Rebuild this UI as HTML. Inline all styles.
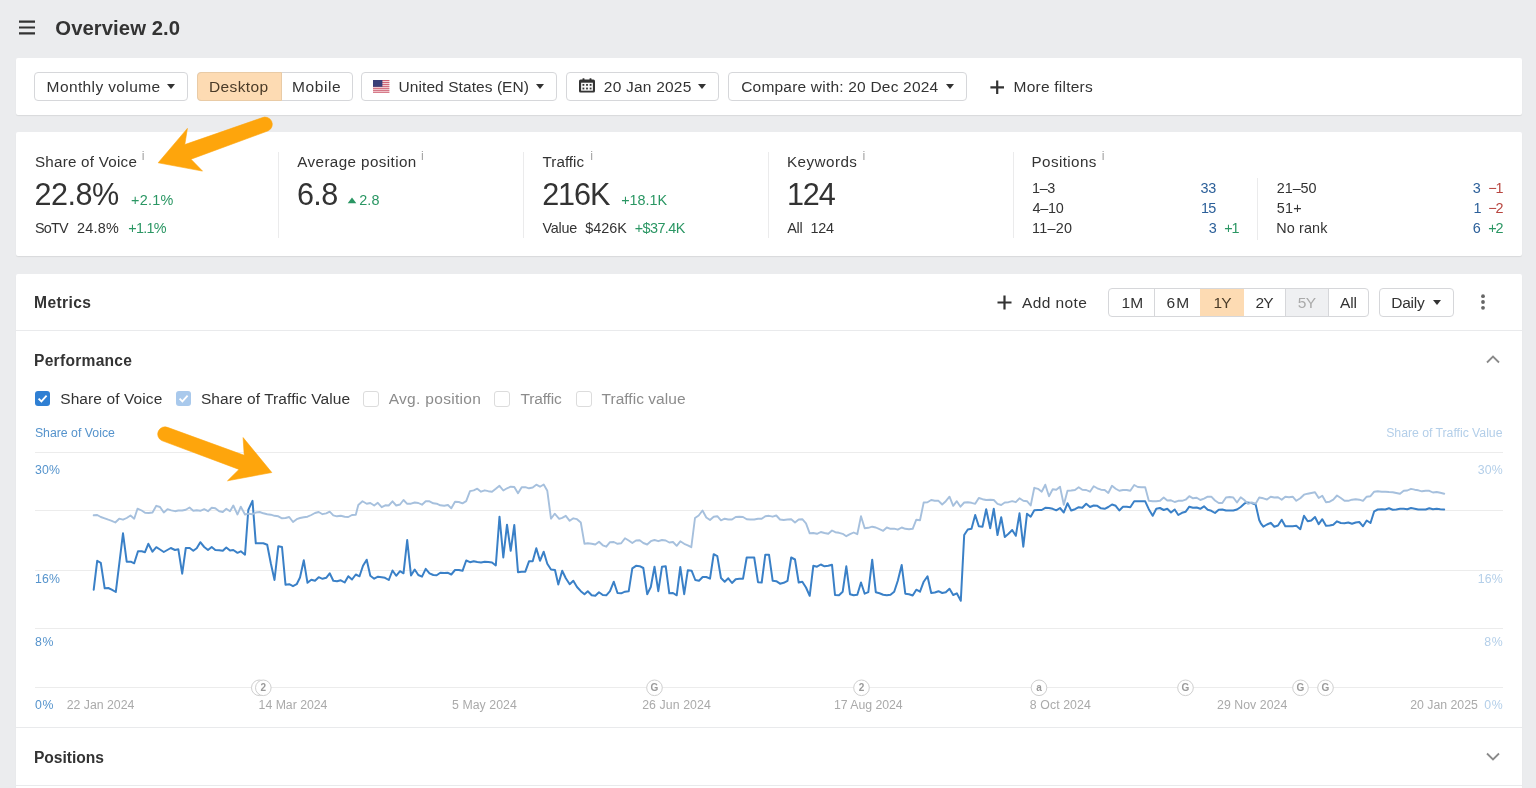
<!DOCTYPE html>
<html lang="en">
<head>
<meta charset="utf-8">
<title>Overview 2.0</title>
<style>
*{box-sizing:border-box;margin:0;padding:0}
html,body{width:1536px;height:788px;overflow:hidden}
body{background:#ebecee;font-family:"Liberation Sans",Arial,sans-serif;color:#333;position:relative;font-size:16px}
.abs,.t{position:absolute;white-space:nowrap}
.card{position:absolute;left:16px;width:1506px;background:#fff;border-radius:2px;box-shadow:0 1px 1px rgba(0,0,0,.08)}
.btn{position:absolute;top:72px;height:29px;border:1px solid #d6d7da;border-radius:4px;background:#fff}
.caret{position:absolute;width:0;height:0;border-left:4.5px solid transparent;border-right:4.5px solid transparent;border-top:5.5px solid #333}
.sep{position:absolute;width:1px;background:#ebebec}
.i{position:absolute;font-size:9px;color:#aaa;line-height:1}
.hl{position:absolute;left:35px;width:1468px;height:1px;background:#ececec}
.cb{position:absolute;top:391px;width:15px;height:15px;border-radius:3px}
.cb.off{border:1px solid #dcdcdc;background:#fff;width:16px;height:16px;margin:-.5px 0 0 -.5px}
.ln{position:absolute;left:16px;width:1506px;height:1px;background:#e9eaec}
</style>
</head>
<body>
<!-- header -->
<svg class="abs" style="left:18px;top:19px" width="18" height="17" viewBox="0 0 18 17"><path d="M1 2.6h16M1 8.5h16M1 14.4h16" stroke="#333" stroke-width="2.2" fill="none"/></svg>

<!-- filter card -->
<div class="card" style="top:58px;height:57px"></div>
<div class="btn" style="left:34px;width:154px"></div>
<div class="caret" style="left:167px;top:84px"></div>
<div class="btn" style="left:197px;width:156px"><div style="position:absolute;left:-1px;top:-1px;bottom:-1px;width:85px;background:#fddbb3;border:1px solid #e9cba6;border-radius:4px 0 0 4px"></div></div>
<div class="btn" style="left:361px;width:196px"></div>
<svg class="abs" style="left:373.4px;top:80px" width="16.4" height="12.8" viewBox="0 0 16.4 12.8"><rect width="16.4" height="12.8" fill="#f6d9dc"/><g fill="#cf6475"><rect y="0" width="16.4" height="1"/><rect y="1.97" width="16.4" height="1"/><rect y="3.94" width="16.4" height="1"/><rect y="5.9" width="16.4" height="1"/><rect y="7.87" width="16.4" height="1"/><rect y="9.84" width="16.4" height="1"/><rect y="11.8" width="16.4" height="1"/></g><rect width="9.4" height="6.8" fill="#3a3f78"/></svg>
<div class="caret" style="left:536px;top:84px"></div>
<div class="btn" style="left:566px;width:153px"></div>
<svg class="abs" style="left:578.6px;top:78.4px" width="16" height="15" viewBox="0 0 16 15"><rect x="3.5" y="0.2" width="2" height="3" rx=".6" fill="#333"/><rect x="10.5" y="0.2" width="2" height="3" rx=".6" fill="#333"/><rect x="0" y="1.6" width="16" height="13" rx="1.6" fill="#333"/><rect x="2.1" y="4.7" width="11.8" height="8" fill="#f7f7f7"/><g fill="#333"><rect x="3.5" y="6" width="1.8" height="1.8"/><rect x="7.1" y="6" width="1.8" height="1.8"/><rect x="10.7" y="6" width="1.8" height="1.8"/><rect x="3.5" y="9.6" width="1.8" height="1.8"/><rect x="7.1" y="9.6" width="1.8" height="1.8"/><rect x="10.7" y="9.6" width="1.8" height="1.8"/></g></svg>
<div class="caret" style="left:698px;top:84px"></div>
<div class="btn" style="left:728px;width:239px"></div>
<div class="caret" style="left:946px;top:84px"></div>
<svg class="abs" style="left:989.5px;top:79.5px" width="15" height="15" viewBox="0 0 15 15"><path d="M7.2 0.5v13.6M0.4 7.3h13.6" stroke="#333" stroke-width="2.2" fill="none"/></svg>

<!-- stats card -->
<div class="card" style="top:132px;height:124px"></div>
<div class="sep" style="left:278px;top:152px;height:86px"></div>
<div class="sep" style="left:523px;top:152px;height:86px"></div>
<div class="sep" style="left:768px;top:152px;height:86px"></div>
<div class="sep" style="left:1013px;top:152px;height:86px"></div>
<div class="sep" style="left:1257px;top:178px;height:62px"></div>
<svg class="abs" style="left:347px;top:197px" width="10" height="7" viewBox="0 0 10 7"><path d="M5 0.5L9.3 6.3H0.7z" fill="#2a9663"/></svg>

<!-- metrics card -->
<div class="card" style="top:274px;height:520px"></div>
<svg class="abs" style="left:997px;top:295px" width="15" height="15" viewBox="0 0 15 15"><path d="M7.5 0.5v14M0.5 7.5h14" stroke="#333" stroke-width="2.2" fill="none"/></svg>
<div class="abs" style="left:1108px;top:288px;width:261px;height:29px;border:1px solid #d6d7da;border-radius:4px;background:#fff;overflow:hidden">
  <div class="abs" style="left:45px;top:0;width:1px;height:29px;background:#d6d7da"></div>
  <div class="abs" style="left:91px;top:-1px;width:44px;height:31px;background:#fddbb3;border:1px solid #e9cba6;border-width:1px 0"></div>
  <div class="abs" style="left:176px;top:0;width:1px;height:29px;background:#d6d7da"></div>
  <div class="abs" style="left:177px;top:0;width:42px;height:29px;background:#eff0f2"></div>
  <div class="abs" style="left:219px;top:0;width:1px;height:29px;background:#d6d7da"></div>
</div>
<div class="abs" style="left:1379px;top:288px;width:75px;height:29px;border:1px solid #d6d7da;border-radius:4px;background:#fff"></div>
<div class="caret" style="left:1432.5px;top:300px"></div>
<svg class="abs" style="left:1479px;top:293px" width="8" height="18" viewBox="0 0 8 18"><circle cx="4" cy="3.2" r="1.9" fill="#666"/><circle cx="4" cy="9" r="1.9" fill="#666"/><circle cx="4" cy="14.8" r="1.9" fill="#666"/></svg>
<div class="ln" style="top:330px"></div>
<svg class="abs" style="left:1485px;top:353px" width="16" height="12" viewBox="0 0 16 12"><path d="M2 9.5L8 3.5L14 9.5" stroke="#8a8a8a" stroke-width="1.8" fill="none"/></svg>

<!-- checkboxes -->
<div class="cb" style="left:35px;background:#2f7fd3"></div>
<svg class="abs" style="left:35px;top:391px" width="15" height="15" viewBox="0 0 15 15"><path d="M3.6 7.6L6.4 10.4L11.6 4.6" stroke="#fff" stroke-width="1.8" fill="none"/></svg>
<div class="cb" style="left:176px;background:#a9c9ec"></div>
<svg class="abs" style="left:176px;top:391px" width="15" height="15" viewBox="0 0 15 15"><path d="M3.6 7.6L6.4 10.4L11.6 4.6" stroke="#fff" stroke-width="1.8" fill="none"/></svg>
<div class="cb off" style="left:363.5px"></div>
<div class="cb off" style="left:494.5px"></div>
<div class="cb off" style="left:576.5px"></div>

<!-- chart grid -->
<div class="hl" style="top:452px"></div>
<div class="hl" style="top:510px"></div>
<div class="hl" style="top:570px"></div>
<div class="hl" style="top:628px"></div>
<div class="hl" style="top:687px"></div>
<svg class="abs" style="left:0;top:440px" width="1536" height="260" viewBox="0 440 1536 260">
<path d="M93.7,589.7L97.2,560.8L100.8,562.8L104.7,588.3L108.3,588L111.7,589.7L115.8,592L123,533.3L126.7,561.7L130.8,561.7L134.2,563.3L138,551.2L141.7,551.3L145,552.2L148.3,543.8L152.5,551.7L156.3,547.2L160,549.5L163.8,552L170.8,548L175,550L178.3,549.2L182.2,573.7L185.8,548L189.7,548L193.3,550.8L196.7,548.3L200.3,542.2L204.2,547L208,550L211.7,547L215.3,550L219.2,550.3L222.8,550.8L226.3,547.5L230,550.5L233.3,550L237.5,552.8L240.8,551.3L245,554.7L248.3,510L252.5,500.8L255.8,543.3L260,543.3L263.3,543.3L267.2,544.7L270.8,563.3L274.5,580L278.3,546.3L282,547L285.5,584.7L289.2,584.2L293,586.2L296.7,584.2L300,577.5L303.8,560.3L307.5,582.8L311.3,579.7L315,580.8L318.7,577.2L322.5,578.8L326.2,577.8L329.7,573.3L333.3,580.8L337,581.3L340.8,580.3L344.7,582.5L348.3,576.2L352,579.5L355.8,574.5L359.5,576.3L363,565.8L366.7,559.7L370.3,575.8L374.2,578.7L378,576.7L381.7,577.2L385,577.8L388.8,580L392.5,570.5L396.2,575.8L400,571.2L403.5,573.3L407.2,540L411,575.5L414.7,569.5L418.3,575L422,576.7L425.7,568.8L429.5,573.3L433.3,575L436.7,575.3L440.3,572.8L444.2,573L448,572.8L451.3,574.5L455,570L458.8,570L462.5,570.8L466.2,560.5L470,562.2L473.7,561.2L477.3,562L481,562.5L484.7,561.7L488.3,562L492,562.5L495.8,565.5L499.5,516.7L503.3,557.5L507,524.7L510.7,550.8L514.3,525L518,572.2L521.7,571.7L525.3,571.7L529,561.3L532.7,561.2L536.3,548.3L540,560.8L543.7,551.7L547.3,563.8L551,569.5L555,570L558.3,584.5L562.2,570.8L565.8,578.3L569.7,584.2L573.3,580.8L577,587L580.8,591.2L584.5,594.2L587.8,591.2L591.7,595.3L595.3,595.8L599,592.2L602.8,595L606.3,595.3L610,591.2L613.8,581.7L617.5,593L621.2,593.3L625,591.7L628.7,591.3L632.3,568.3L636,565.8L639.7,566.2L643.3,568L647.2,594.2L650.8,587L654.5,566.7L658.3,591.2L662,566.7L665.7,566.2L669.3,593.3L673,593L676.7,595.3L680.3,567L684.2,594.2L687.8,570.3L691.7,570.8L695.3,580L699,580.8L702.7,577L706.3,577L710,578.7L713.7,554.2L717.3,556.2L721,578L724.7,581.7L728.3,578.3L732,583L735.7,579.2L739.3,578.8L743,578.8L746.7,557.5L750.3,557.5L754.2,557.5L758,582.2L761.7,582.5L765.3,554.7L769,554.7L772.7,580.8L776.3,581.2L780,583.7L783.7,582.8L787.5,580.8L791.2,557.5L795,559.5L798.7,582.5L802.3,581.7L806,587.5L809.7,595.8L813.3,565.8L817,566.7L820.8,564.5L824.5,566.3L828.3,565.8L832,564.7L835,595L839,595.3L842.7,591.7L846.3,566.3L850,594.2L853.7,595.3L857.3,594.7L861,582.5L864.7,593.7L868.3,592.2L872.2,559.7L875.8,592.2L879.5,593.3L883.2,594.7L886.8,595.3L890.5,594.7L894.2,591.7L897.8,580.8L901.7,565L905.3,593.7L909,594.2L912.7,595.5L916.3,589.7L920,591.7L923.7,581.7L927.5,576.2L931.2,593L934.8,592.5L938.5,591.2L942.2,593L945.8,592.2L949.5,588.8L953.2,595L956.8,593.3L960.8,600.8L964.2,535L967.8,529.5L971.5,528.7L975.2,515L978.8,526.3L982.5,526.7L986.2,509.2L990.2,528.3L993.8,508.8L997.5,535L1001.2,517.2L1004.8,537L1008.5,533.8L1012.2,530L1015.8,535.8L1019.5,513.3L1023.3,546.7L1027,513.7L1030.7,516.7L1034.3,510.3L1038,510L1041.7,510L1045.3,507.8L1049,508L1052.7,508.8L1056.3,510.3L1060,508L1063.8,512.5L1067.5,503.3L1071.2,510.5L1075,509.2L1078.7,507.2L1082.3,507.8L1086.2,503.7L1090,507L1093.7,505.5L1097.3,505.8L1101,508.3L1104.7,508.8L1108.3,507L1112,504.5L1115.7,505.8L1119.3,510.5L1123,506.7L1126.7,506.7L1130.3,507.2L1134.2,501.3L1137.8,501.2L1141.5,501.2L1145.2,501.3L1148.8,509.2L1152.7,515.8L1156.3,508.8L1160,508L1163.7,510L1167.3,508.8L1171,512.5L1174.7,509.5L1178.3,515L1182,512.8L1185.7,511.7L1189.3,506.7L1193,507.8L1196.7,507.5L1200.3,508.8L1204,506.3L1207.7,509.7L1211.3,510.8L1215,513L1218.7,509.7L1222.3,509.5L1226,510.5L1229.7,510.5L1233.3,510.5L1237,509.5L1240.7,507L1244.3,503.7L1246.7,502.5L1251.7,503L1255.7,504.7L1259.2,520L1260.8,523.3L1263.3,526.7L1267,524.5L1270.7,522.8L1274.3,526.7L1278,525.5L1281.7,519.7L1285.3,526.3L1289,526.3L1292.7,526.2L1296.3,525.8L1300.3,529.2L1304,515.8L1307.7,521.3L1311.3,520.5L1315,517L1318.7,524.2L1322.3,519.2L1326,525.8L1329.7,525.5L1333.3,524.7L1337,521.3L1340.8,523L1344.5,523.3L1348.3,522.5L1352,523.8L1355.7,522.5L1359.3,522L1363,526.3L1366.7,520.5L1370.5,523L1374.2,511.3L1377.8,509.5L1381.7,509.2L1385.3,509.5L1389,508.3L1392.7,509.7L1396.3,509.5L1400,508.8L1403.7,508.7L1407.3,509.2L1411,508L1414.7,508.7L1418.3,509.5L1422,509.5L1425.7,509.5L1429.3,508.3L1433,509.2L1436.7,508.8L1440.3,509.2L1444.2,509.5" fill="none" stroke="#3a80c7" stroke-width="2" stroke-linejoin="round" stroke-linecap="round"/>
<path d="M93.7,515.3L97.2,515L100.8,517L104.7,518.3L108.3,519.7L111.7,520.8L115.3,522.5L119.2,518.7L123,519.7L126.7,518L130.5,515.5L134.2,518.7L137.5,508.7L141.7,510.5L145,512.8L148.7,513L152.5,512.5L156.3,505.8L160,507L163.8,512.5L167.5,509.2L171.3,510.3L175,511.2L178.3,510.5L182.2,510.5L185.8,509.7L189.5,507.5L193.3,510.8L196.7,510.3L200.3,510.8L204.2,509.2L208,511.2L211.7,507.8L215.3,508.3L219.2,511.3L222.8,512L226.3,508.8L230,511.3L233.3,505.5L237.5,514.5L240.8,506.7L245,514.5L248.3,513.7L252.5,514.2L255.8,512.5L259.7,512L263.3,513.3L267.2,514.2L270.8,514.7L274.5,515.8L278.3,516.3L282,518.3L285.5,518L289.2,517L293,522L296.7,519.2L300,518L303.8,517.2L307.5,516.7L311.3,515L315,513L318.7,512L322.5,514.2L326.2,513.3L329.7,511.7L333.3,515.3L337,516.3L340.8,515.8L344.7,516.7L348.3,517L352,515L355.8,514.7L358.3,505L362.5,501.3L366.7,503.8L370.3,503L374.2,505.5L377.8,502.8L381.7,507.2L385.3,505.3L388.7,505.5L392.5,501.3L396.2,505.5L400,504.5L403.5,500L407.2,503.8L411,503.7L414.7,502.5L418.3,503L422,504.7L425.7,501.2L429.5,501.3L433.3,503.3L436.7,503.7L440.3,505.3L444.2,505.8L448,505L451.3,508.3L455,501.7L458.8,502L462.5,503.3L466.2,501.2L470,491.2L473.7,490.3L477.3,488.7L481,491.7L484.7,490.3L488.3,491.2L492,491.7L495.8,488.8L499.5,485.8L503.3,490.5L507,488.3L510.7,486.7L514.3,487L518,493.3L521.7,487.2L525.3,487.2L529,488.3L532.7,487.5L536.3,484.7L540,486.7L543.7,484.5L547.3,490.8L551,518.7L554.7,513.7L559.2,518.8L562.2,517.8L565.8,515.8L569.7,520.8L573.3,518.3L577,519.2L580.8,522.5L584.5,543.8L587.8,543.3L591.7,543.7L595.3,544.5L599,541.7L602.8,545.3L606.3,546.7L610,542.2L613.8,542L617.5,543.8L621.2,543.3L625,538.3L628.7,540.5L632.3,543L636,540.5L639.7,540.3L643.3,543L647.2,544.5L650.8,541.2L654.5,540L658.3,541.2L662,540L665.7,540.5L669.3,542.5L673,542L676.7,545.8L680.3,541.3L684.2,543.8L687.8,545.3L691.3,547.2L695,518L698.7,515.5L702.5,510.5L706.3,517.5L710,520L713.7,516.7L717.3,516.2L721,520.3L724.7,518.7L728.3,519.5L732,519.5L735.7,517L739.3,516.7L743,517L746.7,519.2L750.3,519.5L754.2,519.5L758,518.7L761.7,518.8L765.3,516.2L769,515.8L772.7,516.7L776.3,515.5L780,519.5L783.7,520L787.5,519.5L791.2,519.2L795,522.5L798.7,519.5L802.3,519.2L806,523.3L809.7,533.3L813.3,533L817,533.8L820.8,532L824.5,533L828.3,533.8L832,530.5L835.3,532.2L839,532.8L842.7,533.8L846.3,536.2L850,534.2L853.7,532.5L857.3,534.2L861,516.2L864.7,528.3L868.3,527.8L872.2,526.7L875.8,527.5L879.5,529.2L883.2,530.8L886.8,527.5L890.5,528.8L894.2,528.7L897.8,529.7L901.7,527.5L905.3,528.8L909,529.2L912.7,528.8L916.3,519.7L920,520.3L923.7,502.5L927.5,502.2L931.2,500L934.8,500.8L938.5,500.8L942.2,504.5L945.8,501.2L949.5,496.7L953.2,505.8L956.8,501.2L960.5,506.7L964.2,502.5L967.8,502.2L971.5,502.8L975.2,503.8L978.8,498L982.5,499.2L986.2,500L990.2,499.7L993.8,500L997.5,503.8L1001.2,505L1004.8,502.5L1008.5,502.2L1012.2,501.2L1015.8,502.2L1019.5,498.3L1023.3,500.8L1027,501.2L1030.7,505.5L1034.3,487.8L1038,488.8L1041.7,491.7L1045.3,484.7L1049,496.3L1052.7,489.2L1056.3,489.7L1060,486.7L1063.8,504.7L1067.5,490.8L1071.2,490.5L1075,490L1078.7,487.2L1082.3,489.7L1086.2,490L1090,491.7L1093.7,486.2L1097.3,488.3L1101,489.7L1104.7,490L1108.3,493L1112,485.8L1115.7,488.7L1119.3,490.8L1123,490L1126.7,490L1130.3,490.8L1134.2,485L1137.8,487L1141.5,487.2L1145.2,487.2L1148.8,500.8L1152.7,501.2L1156.3,501.2L1160,500.8L1163.7,497.5L1167.3,500.5L1171,500.3L1174.7,502L1178.3,500.8L1182,500.8L1185.7,499.7L1189.3,496.2L1193,498.3L1196.7,497.8L1200.3,500L1204,498.7L1207.7,496.7L1211.3,496.7L1215,500.5L1218.7,503L1222.3,503L1226,497.5L1229.7,497L1233.3,497.5L1237,502.5L1240.7,497.2L1244.3,500L1248,503.8L1251.7,502.5L1255.7,503.7L1259.2,497.5L1263.3,498.3L1267,499.5L1270.7,496.7L1274.3,497.5L1278,497.2L1281.7,499.7L1285.3,496.7L1289,497.2L1292.7,496.7L1296.3,500.8L1300.3,498.3L1304,494.7L1307.7,493.7L1311.3,493L1315,492.2L1318.7,498L1322.3,495.8L1326,502.2L1329.7,501.7L1333.3,499.7L1337,495.5L1340.8,498L1344.5,500.8L1348.3,500.8L1352,499.7L1355.7,499.2L1359.3,499.7L1363,500.8L1366.7,496.7L1370.5,496.2L1374.2,491.7L1377.8,491.3L1381.7,491.7L1385.3,491.7L1389,492L1392.7,492.2L1396.3,493L1400,493.8L1403.7,490.8L1407.3,490.5L1411,488.8L1414.7,489.7L1418.3,490.3L1422,491.3L1425.7,490.8L1429.3,490.8L1433,492.5L1436.7,492L1440.3,492.8L1444.2,493.7" fill="none" stroke="#a6c0dd" stroke-width="1.9" stroke-linejoin="round" stroke-linecap="round"/>
<circle cx="259.3" cy="687.8" r="7.8" fill="#fff" stroke="#cfcfcf"/><circle cx="263.3" cy="687.8" r="7.8" fill="#fff" stroke="#cfcfcf"/><text x="263.3" y="691.4" text-anchor="middle" font-family="Liberation Sans, Arial, sans-serif" font-size="10" font-weight="700" fill="#9a9a9a">2</text><circle cx="654.5" cy="687.8" r="7.8" fill="#fff" stroke="#cfcfcf"/><text x="654.5" y="691.4" text-anchor="middle" font-family="Liberation Sans, Arial, sans-serif" font-size="10" font-weight="700" fill="#9a9a9a">G</text><circle cx="861.5" cy="687.8" r="7.8" fill="#fff" stroke="#cfcfcf"/><text x="861.5" y="691.4" text-anchor="middle" font-family="Liberation Sans, Arial, sans-serif" font-size="10" font-weight="700" fill="#9a9a9a">2</text><circle cx="1039" cy="687.8" r="7.8" fill="#fff" stroke="#cfcfcf"/><text x="1039" y="691.4" text-anchor="middle" font-family="Liberation Sans, Arial, sans-serif" font-size="10" font-weight="700" fill="#9a9a9a">a</text><circle cx="1185.5" cy="687.8" r="7.8" fill="#fff" stroke="#cfcfcf"/><text x="1185.5" y="691.4" text-anchor="middle" font-family="Liberation Sans, Arial, sans-serif" font-size="10" font-weight="700" fill="#9a9a9a">G</text><circle cx="1300.5" cy="687.8" r="7.8" fill="#fff" stroke="#cfcfcf"/><text x="1300.5" y="691.4" text-anchor="middle" font-family="Liberation Sans, Arial, sans-serif" font-size="10" font-weight="700" fill="#9a9a9a">G</text><circle cx="1325.5" cy="687.8" r="7.8" fill="#fff" stroke="#cfcfcf"/><text x="1325.5" y="691.4" text-anchor="middle" font-family="Liberation Sans, Arial, sans-serif" font-size="10" font-weight="700" fill="#9a9a9a">G</text>
</svg>

<div class="ln" style="top:727px"></div>
<svg class="abs" style="left:1485px;top:751px" width="16" height="12" viewBox="0 0 16 12"><path d="M2 2.5L8 8.5L14 2.5" stroke="#8a8a8a" stroke-width="1.8" fill="none"/></svg>
<div class="ln" style="top:785px"></div>

<!-- text -->
<div class="t" style="left:55.30px;top:15.77px;font-size:20.3px;line-height:24px;letter-spacing:0.060px;font-weight:700">Overview 2.0</div>
<div class="t" style="left:46.60px;top:77.43px;font-size:15.5px;line-height:19px;letter-spacing:0.383px">Monthly volume</div>
<div class="t" style="left:209.00px;top:77.43px;font-size:15.5px;line-height:19px;letter-spacing:0.377px;color:#4a3b28">Desktop</div>
<div class="t" style="left:292.00px;top:77.43px;font-size:15.5px;line-height:19px;letter-spacing:0.592px">Mobile</div>
<div class="t" style="left:398.60px;top:77.43px;font-size:15.5px;line-height:19px;letter-spacing:0.067px">United States (EN)</div>
<div class="t" style="left:603.80px;top:77.43px;font-size:15.5px;line-height:19px;letter-spacing:0.219px">20 Jan 2025</div>
<div class="t" style="left:741.20px;top:77.43px;font-size:15.5px;line-height:19px;letter-spacing:0.204px">Compare with: 20 Dec 2024</div>
<div class="t" style="left:1013.60px;top:77.43px;font-size:15.5px;line-height:19px;letter-spacing:0.218px">More filters</div>
<div class="t" style="left:34.90px;top:152.63px;font-size:15.2px;line-height:18px;letter-spacing:0.243px">Share of Voice</div>
<div class="t" style="left:297.30px;top:152.63px;font-size:15.2px;line-height:18px;letter-spacing:0.406px">Average position</div>
<div class="t" style="left:542.60px;top:152.63px;font-size:15.2px;line-height:18px;letter-spacing:0.024px">Traffic</div>
<div class="t" style="left:787.00px;top:152.63px;font-size:15.2px;line-height:18px;letter-spacing:0.459px">Keywords</div>
<div class="t" style="left:1031.60px;top:152.63px;font-size:15.2px;line-height:18px;letter-spacing:0.396px">Positions</div>
<div class="t" style="left:141.75px;top:149.07px;font-size:12.5px;line-height:15px;color:#a3a3a3">i</div>
<div class="t" style="left:421.05px;top:149.07px;font-size:12.5px;line-height:15px;color:#a3a3a3">i</div>
<div class="t" style="left:590.15px;top:149.07px;font-size:12.5px;line-height:15px;color:#a3a3a3">i</div>
<div class="t" style="left:862.55px;top:149.07px;font-size:12.5px;line-height:15px;color:#a3a3a3">i</div>
<div class="t" style="left:1101.65px;top:149.07px;font-size:12.5px;line-height:15px;color:#a3a3a3">i</div>
<div class="t" style="left:34.40px;top:176.10px;font-size:30.6px;line-height:37px;letter-spacing:-0.511px">22.8%</div>
<div class="t" style="left:297.00px;top:176.10px;font-size:30.6px;line-height:37px;letter-spacing:-0.657px">6.8</div>
<div class="t" style="left:542.20px;top:176.10px;font-size:30.6px;line-height:37px;letter-spacing:-1.081px">216K</div>
<div class="t" style="left:787.00px;top:176.10px;font-size:30.6px;line-height:37px;letter-spacing:-1.200px">124</div>
<div class="t" style="left:131.10px;top:191.71px;font-size:14.4px;line-height:17px;letter-spacing:0.273px;color:#2a9663">+2.1%</div>
<div class="t" style="left:359.20px;top:191.71px;font-size:14.4px;line-height:17px;letter-spacing:0.099px;color:#2a9663">2.8</div>
<div class="t" style="left:621.20px;top:191.71px;font-size:14.4px;line-height:17px;letter-spacing:-0.022px;color:#2a9663">+18.1K</div>
<div class="t" style="left:34.90px;top:220.41px;font-size:14.4px;line-height:17px;letter-spacing:-0.731px">SoTV</div>
<div class="t" style="left:77.00px;top:220.41px;font-size:14.4px;line-height:17px;letter-spacing:0.273px">24.8%</div>
<div class="t" style="left:128.20px;top:220.41px;font-size:14.4px;line-height:17px;letter-spacing:-0.702px;color:#2a9663">+1.1%</div>
<div class="t" style="left:542.60px;top:220.41px;font-size:14.4px;line-height:17px;letter-spacing:-0.283px">Value</div>
<div class="t" style="left:585.20px;top:220.41px;font-size:14.4px;line-height:17px">$426K</div>
<div class="t" style="left:634.70px;top:220.41px;font-size:14.4px;line-height:17px;letter-spacing:-0.569px;color:#2a9663">+$37.4K</div>
<div class="t" style="left:787.20px;top:220.41px;font-size:14.4px;line-height:17px;letter-spacing:-0.198px">All</div>
<div class="t" style="left:810.40px;top:220.41px;font-size:14.4px;line-height:17px;letter-spacing:-0.203px">124</div>
<div class="t" style="left:1032.00px;top:179.61px;font-size:14.4px;line-height:17px;letter-spacing:-0.353px">1–3</div>
<div class="t" style="left:1200.60px;top:179.61px;font-size:14.4px;line-height:17px;letter-spacing:-0.303px;color:#2b5f99">33</div>
<div class="t" style="left:1032.60px;top:200.11px;font-size:14.4px;line-height:17px;letter-spacing:-0.270px">4–10</div>
<div class="t" style="left:1201.00px;top:200.11px;font-size:14.4px;line-height:17px;letter-spacing:-0.703px;color:#2b5f99">15</div>
<div class="t" style="left:1032.00px;top:220.41px;font-size:14.4px;line-height:17px;letter-spacing:0.239px">11–20</div>
<div class="t" style="left:1208.70px;top:220.41px;font-size:14.4px;line-height:17px;color:#2b5f99">3</div>
<div class="t" style="left:1224.30px;top:220.41px;font-size:14.4px;line-height:17px;letter-spacing:-1.200px;color:#2a9663">+1</div>
<div class="t" style="left:1276.80px;top:179.61px;font-size:14.4px;line-height:17px;letter-spacing:-0.078px">21–50</div>
<div class="t" style="left:1472.80px;top:179.61px;font-size:14.4px;line-height:17px;color:#2b5f99">3</div>
<div class="t" style="left:1488.20px;top:179.61px;font-size:14.4px;line-height:17px;letter-spacing:-1.200px;color:#b8453f">−1</div>
<div class="t" style="left:1276.80px;top:200.11px;font-size:14.4px;line-height:17px;letter-spacing:0.197px">51+</div>
<div class="t" style="left:1473.40px;top:200.11px;font-size:14.4px;line-height:17px;color:#2b5f99">1</div>
<div class="t" style="left:1488.20px;top:200.11px;font-size:14.4px;line-height:17px;letter-spacing:-1.200px;color:#b8453f">−2</div>
<div class="t" style="left:1276.20px;top:220.41px;font-size:14.4px;line-height:17px;letter-spacing:0.135px">No rank</div>
<div class="t" style="left:1472.80px;top:220.41px;font-size:14.4px;line-height:17px;color:#2b5f99">6</div>
<div class="t" style="left:1488.20px;top:220.41px;font-size:14.4px;line-height:17px;letter-spacing:-1.200px;color:#2a9663">+2</div>
<div class="t" style="left:34.00px;top:292.99px;font-size:15.6px;line-height:19px;letter-spacing:0.395px;font-weight:700">Metrics</div>
<div class="t" style="left:1021.90px;top:293.03px;font-size:15.5px;line-height:19px;letter-spacing:0.424px">Add note</div>
<div class="t" style="left:1121.40px;top:293.03px;font-size:15.5px;line-height:19px;letter-spacing:0.180px">1M</div>
<div class="t" style="left:1166.60px;top:293.03px;font-size:15.5px;line-height:19px;letter-spacing:0.980px">6M</div>
<div class="t" style="left:1213.50px;top:293.03px;font-size:15.5px;line-height:19px;letter-spacing:-0.920px;color:#4a3b28">1Y</div>
<div class="t" style="left:1255.40px;top:293.03px;font-size:15.5px;line-height:19px;letter-spacing:-0.720px">2Y</div>
<div class="t" style="left:1297.80px;top:293.03px;font-size:15.5px;line-height:19px;letter-spacing:-0.620px;color:#aaaaaa">5Y</div>
<div class="t" style="left:1339.90px;top:293.03px;font-size:15.5px;line-height:19px;letter-spacing:-0.041px">All</div>
<div class="t" style="left:1391.20px;top:293.03px;font-size:15.5px;line-height:19px;letter-spacing:-0.225px">Daily</div>
<div class="t" style="left:34.00px;top:350.69px;font-size:15.6px;line-height:19px;letter-spacing:0.264px;font-weight:700">Performance</div>
<div class="t" style="left:60.20px;top:388.93px;font-size:15.5px;line-height:19px;letter-spacing:0.100px">Share of Voice</div>
<div class="t" style="left:200.90px;top:388.93px;font-size:15.5px;line-height:19px;letter-spacing:0.072px">Share of Traffic Value</div>
<div class="t" style="left:388.70px;top:388.93px;font-size:15.5px;line-height:19px;letter-spacing:0.313px;color:#8c8c8c">Avg. position</div>
<div class="t" style="left:520.60px;top:388.93px;font-size:15.5px;line-height:19px;letter-spacing:-0.192px;color:#8c8c8c">Traffic</div>
<div class="t" style="left:601.50px;top:388.93px;font-size:15.5px;line-height:19px;letter-spacing:0.038px;color:#8c8c8c">Traffic value</div>
<div class="t" style="left:34.90px;top:426.34px;font-size:12.3px;line-height:15px;color:#5593cc">Share of Voice</div>
<div class="t" style="left:1386.20px;top:426.34px;font-size:12.3px;line-height:15px;letter-spacing:-0.038px;color:#b4cfe9">Share of Traffic Value</div>
<div class="t" style="left:35.00px;top:462.74px;font-size:12.3px;line-height:15px;letter-spacing:0.161px;color:#5593cc">30%</div>
<div class="t" style="left:1477.80px;top:462.74px;font-size:12.3px;line-height:15px;letter-spacing:0.161px;color:#b4cfe9">30%</div>
<div class="t" style="left:35.00px;top:572.44px;font-size:12.3px;line-height:15px;letter-spacing:0.161px;color:#5593cc">16%</div>
<div class="t" style="left:1477.80px;top:572.44px;font-size:12.3px;line-height:15px;letter-spacing:0.161px;color:#b4cfe9">16%</div>
<div class="t" style="left:35.00px;top:635.04px;font-size:12.3px;line-height:15px;letter-spacing:0.761px;color:#5593cc">8%</div>
<div class="t" style="left:1484.20px;top:635.04px;font-size:12.3px;line-height:15px;letter-spacing:0.761px;color:#b4cfe9">8%</div>
<div class="t" style="left:35.00px;top:697.74px;font-size:12.3px;line-height:15px;letter-spacing:0.761px;color:#5593cc">0%</div>
<div class="t" style="left:1484.20px;top:697.74px;font-size:12.3px;line-height:15px;letter-spacing:0.761px;color:#b4cfe9">0%</div>
<div class="t" style="left:66.70px;top:697.74px;font-size:12.3px;line-height:15px;color:#aaaaaa">22 Jan 2024</div>
<div class="t" style="left:258.60px;top:697.74px;font-size:12.3px;line-height:15px;letter-spacing:-0.020px;color:#aaaaaa">14 Mar 2024</div>
<div class="t" style="left:452.00px;top:697.74px;font-size:12.3px;line-height:15px;letter-spacing:0.065px;color:#aaaaaa">5 May 2024</div>
<div class="t" style="left:642.20px;top:697.74px;font-size:12.3px;line-height:15px;letter-spacing:0.095px;color:#aaaaaa">26 Jun 2024</div>
<div class="t" style="left:834.00px;top:697.74px;font-size:12.3px;line-height:15px;letter-spacing:-0.041px;color:#aaaaaa">17 Aug 2024</div>
<div class="t" style="left:1029.80px;top:697.74px;font-size:12.3px;line-height:15px;letter-spacing:0.098px;color:#aaaaaa">8 Oct 2024</div>
<div class="t" style="left:1217.00px;top:697.74px;font-size:12.3px;line-height:15px;letter-spacing:0.060px;color:#aaaaaa">29 Nov 2024</div>
<div class="t" style="left:1410.20px;top:697.74px;font-size:12.3px;line-height:15px;letter-spacing:-0.005px;color:#aaaaaa">20 Jan 2025</div>
<div class="t" style="left:34.00px;top:747.69px;font-size:15.6px;line-height:19px;letter-spacing:-0.026px;font-weight:700">Positions</div>

<!-- arrows -->
<svg class="abs" style="left:0;top:0" width="1536" height="788" viewBox="0 0 1536 788">
<g fill="#fea50c" stroke="#fea50c" stroke-width="0.6" stroke-linejoin="round">
<path d="M158.2 162.8L187.4 128.4L184.8 144.6L261.9 117.8A6.9 6.9 0 0 1 268.2 130.8L191 159.2L202.5 171.1Z"/>
<path d="M271.8 472.5L227.5 480.8L239 469.4L161.8 440.6A6.9 6.9 0 0 1 168.1 427.6L244.2 455.3L243.1 437.6Z"/>
</g>
</svg>
</body>
</html>
